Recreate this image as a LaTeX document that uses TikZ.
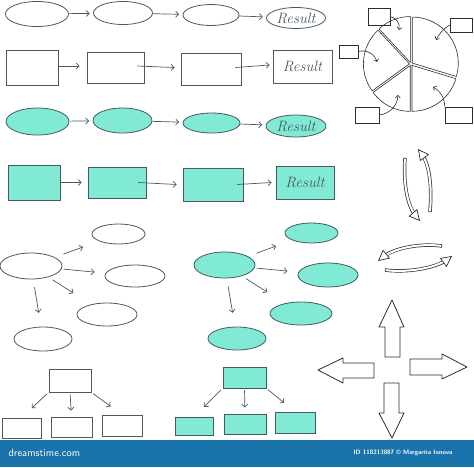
\documentclass[tikz,border=0pt]{standalone}
\usetikzlibrary{shapes.geometric,arrows.meta,calc}
\definecolor{ink}{RGB}{72,88,100}
\definecolor{pen}{RGB}{45,45,45}
\definecolor{mint}{RGB}{128,234,212}
\definecolor{footblue}{RGB}{27,115,172}
\tikzset{
  oval/.style={ellipse,draw=ink,line width=0.8pt,inner sep=0pt},
  box/.style={rectangle,draw=ink,line width=0.8pt,inner sep=0pt},
  arr/.style={ink,line width=0.7pt,-{Straight Barb[length=3pt,width=6pt]}},
  parr/.style={pen,line width=0.6pt,-{Straight Barb[length=2.5pt,width=5pt]}},
  res/.style={font=\fontsize{15}{15}\selectfont\itshape,text=ink},
  pie/.style={pen,line width=0.6pt,line join=round},
  heavy/.style={pen,line width=0.8pt,line join=round},
}
\newcommand{\swirl}[4]{%
  \draw[pen,line width=3.4pt,shorten >=6pt] #1 .. controls #2 and #3 .. #4;
  \draw[white,line width=2pt,shorten >=5pt,shorten <=0.7pt] #1 .. controls #2 and #3 .. #4;
  \draw[white,line width=0.1pt,shorten <=1pt,
    -{Triangle[open,color=pen,fill=white,line width=0.7pt,length=11pt,width=11pt]}]
    #1 .. controls #2 and #3 .. #4;
}
\begin{document}
\begin{tikzpicture}[x=1pt,y=1pt]
\useasboundingbox (0,0) rectangle (474,-467);

% chains of ovals and boxes
\foreach \i/\x/\y/\w/\h in {1/37/14/63/25,2/123/13/59/23,3/211/15/56/21} {
  \node[oval,minimum width=\w,minimum height=\h] (A\i) at (\x,-\y) {};
}
\node[oval,res,minimum width=59,minimum height=21] (A4) at (296,-18) {Result};
\foreach \i/\j in {1/2,2/3,3/4} {
  \draw[arr,shorten >=3.5pt] (A\i) -- (A\j);
}

\foreach \i/\x/\y/\w/\h in {1/32/67.5/52/35,2/115.5/67.5/57/31,3/211/69/60/32} {
  \node[box,minimum width=\w,minimum height=\h] (B\i) at (\x,-\y) {};
}
\node[box,res,minimum width=59,minimum height=33] (B4) at (302.5,-66.5) {Result};
\foreach \i/\j/\s/\e in {1/2/0/-7,2/3/-7/-6,3/4/-6/-3} {
  \draw[arr] ([xshift=\s,yshift=1.5]B\i.east) -- ([xshift=\e,yshift=1.5]B\j.west);
}

\foreach \i/\x/\y/\w/\h in {1/37.5/121.5/63/27,2/122.5/120.5/59/25,3/211.5/123/57/20} {
  \node[oval,fill=mint,minimum width=\w,minimum height=\h] (C\i) at (\x,-\y) {};
}
\node[oval,res,fill=mint,minimum width=60,minimum height=22] (C4) at (296,-126) {Result};
\foreach \i/\j in {1/2,2/3,3/4} {
  \draw[arr,shorten >=3.5pt] (C\i) -- (C\j);
}

\foreach \i/\x/\y/\w/\h in {1/34/182.5/52/35,2/117/182.5/58/31,3/213/184.5/60/33} {
  \node[box,fill=mint,minimum width=\w,minimum height=\h] (D\i) at (\x,-\y) {};
}
\node[box,res,fill=mint,minimum width=58,minimum height=33] (D4) at (305,-182.5) {Result};
\foreach \i/\j/\s/\e in {1/2/0/-6,2/3/-8/-6,3/4/-6/-4} {
  \draw[arr] ([xshift=\s]D\i.east) -- ([xshift=\e]D\j.west);
}

% mind maps
\foreach \i/\x/\y/\w/\h in {0/31/266/62/26,1/118.5/234/53/20,2/135/276/60/22,3/107/314.5/60/23,4/43/339/58/24} {
  \node[oval,minimum width=\w,minimum height=\h] (M\i) at (\x,-\y) {};
}
\foreach \i/\x/\y/\w/\h in {0/224.5/265/61/26,1/311.5/233/53/20,2/328/275/60/24,3/301/313.5/62/23,4/237/338.5/58/23} {
  \node[oval,fill=mint,minimum width=\w,minimum height=\h] (N\i) at (\x,-\y) {};
}
\foreach \j/\s/\e in {1/9/17,2/2/11,3/5/21,4/8/14} {
  \draw[arr,shorten <=\s,shorten >=\e] (M0) -- (M\j);
  \draw[arr,shorten <=\s,shorten >=\e] (N0) -- (N\j);
}

% trees
\foreach \i/\x/\y/\w/\h in {0/70/380.5/42/23,1/21.5/428/39/20,2/71.5/427/41/20,3/122/425.5/40/21} {
  \node[box,minimum width=\w,minimum height=\h] (T\i) at (\x,-\y) {};
}
\foreach \i/\x/\y/\w/\h in {0/244.5/377.5/43/21,1/194/426/38/18,2/245/424/42/20,3/295/422.5/40/21} {
  \node[box,fill=mint,minimum width=\w,minimum height=\h] (U\i) at (\x,-\y) {};
}
\foreach \t in {T,U} {
  \draw[arr,shorten <=2,shorten >=14] (\t0.south west) -- (\t1.north);
  \draw[arr,shorten <=2,shorten >=6] (\t0.south) -- (\t2.north);
  \draw[arr,shorten <=2,shorten >=14] (\t0.south east) -- (\t3.north);
}

% pie chart
\coordinate (P) at (411,-64);
\foreach \a/\b in {90/133,133/216,216/270,270/343,343/450} {
  \draw[pie] ($(P)+({(\a+\b)/2}:1.6)$) -- ++(\a:46) arc[start angle=\a,end angle=\b,radius=46] -- cycle;
}
\foreach \i/\x/\y/\w/\h in {1/379/16.5/22/17,2/348.5/51.5/19/13,3/367/115/24/16,4/461/25/22/14,5/458.5/115/27/16} {
  \node[box,draw=pen,line width=0.6pt,minimum width=\w,minimum height=\h] (L\i) at (\x,-\y) {};
}
\foreach \i/\x/\y in {1/399/30,2/377/62,3/398/95,4/436/40,5/433/87} {
  \coordinate (S\i) at (\x,-\y);
}
\draw[parr] (L1.east) to[bend left=45] (S1);
\draw[parr] (L2.east) to[bend left=45] (S2);
\draw[parr] (L3.east) to[bend right=40] (S3);
\draw[parr] (L4.west) to[bend right=15] (S4);
\draw[parr] (L5.north west) to[bend right=30] (S5);

% cycle arrows
\swirl{(405,-158)}{(403,-185)}{(408,-207)}{(420,-221)}
\swirl{(430,-212)}{(432,-188)}{(430,-165)}{(418,-149)}
\swirl{(442,-246)}{(420,-243)}{(394,-248)}{(378,-261)}
\swirl{(385,-270)}{(407,-273)}{(436,-268)}{(452,-256)}

% four big arrows
\draw[heavy] (392,-300) -- (404,-327) -- (400,-327) -- (400,-357) -- (385,-357) -- (385,-327) -- (379,-327) -- cycle;
\draw[heavy] (318,-370) -- (343,-358) -- (343,-363) -- (374,-363) -- (374,-378) -- (343,-378) -- (343,-383) -- cycle;
\draw[heavy] (467,-367) -- (442,-354) -- (442,-359) -- (410,-359) -- (410,-375) -- (442,-375) -- (442,-379) -- cycle;
\draw[heavy] (392,-438) -- (379,-413) -- (384,-413) -- (384,-383) -- (399,-383) -- (399,-413) -- (404,-413) -- cycle;

% footer
\fill[footblue] (0,-440) rectangle (474,-467);
\node[anchor=west,text=white,font=\sffamily\fontsize{10.5}{10.5}\selectfont] (logo) at (5,-453) {dreamstime.com};
\node[anchor=east,text=white,font=\sffamily\bfseries\fontsize{6.3}{6.3}\selectfont] (credit) at (456,-453) {ID 118213887 \textcopyright{} Margarita Ionova};
\end{tikzpicture}
\end{document}
